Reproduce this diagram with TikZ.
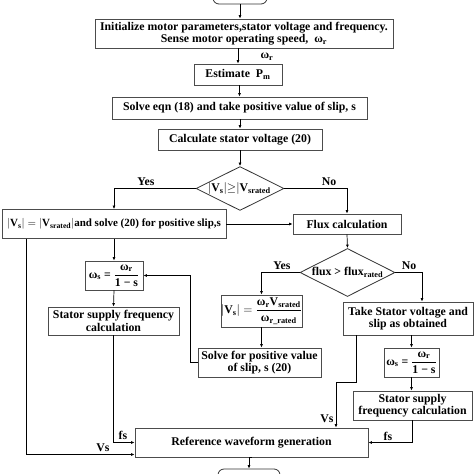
\documentclass[tikz,border=0pt]{standalone}
\usepackage{amsmath}
\usepackage{fontspec}
\setmainfont{Liberation Serif}
\usetikzlibrary{arrows.meta,shapes.geometric}

\begin{document}
\begin{tikzpicture}[x=1pt, y=-1pt,
    box/.style = {
        draw=black!70, line width=0.8pt, inner sep=0pt, align=center,
        font=\fontsize{11.8}{12.5}\selectfont\bfseries
    },
    term/.style = {draw=black!80, line width=0.8pt, rounded corners=6pt},
    decision/.style = {
        draw=black!80, line width=0.8pt, diamond, aspect=2, inner sep=0pt,
        font=\fontsize{11.8}{12.5}\selectfont\bfseries
    },
    arr/.style = {-{Latex[length=3.5pt,width=3pt]}, line width=0.7pt},
    lab/.style = {inner sep=1pt, font=\fontsize{11.8}{12.5}\selectfont\bfseries}
]
    \useasboundingbox (0,0) rectangle (474,474);

    % Nodes
    \node[term, minimum width=54, minimum height=24] (start) at (240,-8) {};
    \node[box, minimum width=298, minimum height=29] (init) at (244,33.5)
        {Initialize motor parameters,stator voltage and frequency.\\
         Sense motor operating speed,\ \ ω\textsubscript{r}};
    \node[box, minimum width=88, minimum height=21] (est) at (238,74.5)
        {Estimate\ \ P\textsubscript{m}};
    \node[box, minimum width=255, minimum height=22] (slip) at (239.5,108)
        {Solve eqn (18) and take positive value of slip, s};
    \node[box, minimum width=164, minimum height=21] (calc) at (240,139.5)
        {Calculate stator voltage (20)};
    \node[decision, minimum width=88, minimum height=43] (volt) at (240,188.5)
        {$\left|\text{V\textsubscript{s}}\right|$$\geq$$\left|\text{V\textsubscript{srated}}\right.$};

    \node[box, minimum width=224, minimum height=29, font=\fontsize{11}{12}\selectfont\bfseries] (vlim) at (114,224)
        {$\left|\text{V\textsubscript{s}}\right| = \left|\text{V\textsubscript{srated}}\right|$and solve (20) for positive slip,s};
    \node[box, minimum width=108, minimum height=20] (flux) at (347,224)
        {Flux calculation};
    \node[decision, minimum width=95, minimum height=48] (fluxq) at (347.5,272.5)
        {flux > flux\textsubscript{rated}};

    \node[box, minimum width=58, minimum height=29] (ws1) at (114,275.5)
        {ω\textsubscript{s} = $\dfrac{\text{ω\textsubscript{r}}}{\text{1 − s}}$};
    \node[box, minimum width=131, minimum height=28] (fs1) at (113.5,321)
        {Stator supply frequency\\ calculation};

    \node[box, minimum width=77, minimum height=32] (vred) at (261.5,311)
        {$\left|\text{V\textsubscript{s}}\right| = \dfrac{\text{ω\textsubscript{r}V\textsubscript{srated}}}{\text{ω\textsubscript{r\_rated}}}$};
    \node[box, minimum width=123, minimum height=29] (slip2) at (259.5,362.5)
        {Solve for positive value\\ of slip, s (20)};

    \node[box, minimum width=130, minimum height=33] (take) at (408,318.5)
        {Take Stator voltage and\\ slip as obtained};
    \node[box, minimum width=55, minimum height=29] (ws2) at (411.5,362.5)
        {ω\textsubscript{s} = $\dfrac{\text{ω\textsubscript{r}}}{\text{1 − s}}$};
    \node[box, minimum width=119, minimum height=29] (fs2) at (412.5,405.5)
        {Stator supply\\ frequency calculation};

    \node[box, minimum width=233, minimum height=29] (ref) at (251.5,442.5)
        {Reference waveform generation};
    \node[term, minimum width=62, minimum height=24] (stop) at (249,481) {};

    % Main column
    \draw[arr] (start.south) -- (start.south |- init.north);
    \draw[arr] (est.north |- init.south) -- (est.north);
    \node[lab] (wr) at (267,57) {ω\textsubscript{r}};
    \draw[arr] (est.south -| slip.north) -- (slip.north);
    \draw[arr] (slip.south) -- (slip.south -| calc.north) -- (calc.north);
    \draw[arr] (calc.south) -- (volt.north);

    % First decision
    \draw[arr] (volt.west) -| (vlim.north);
    \node[lab] (yes1) at (146,182) {Yes};
    \draw[arr] (volt.east) -| (flux.north);
    \node[lab] (no1) at (329,182) {No};
    \draw[arr] (vlim.east) -- (flux.west);

    % Left branch
    \draw[arr] (vlim.south) -- (ws1.north);
    \draw[arr] (ws1.south) -- (fs1.north);
    \draw[arr] (fs1.south) |- (ref.west);
    \node[lab] (fsl) at (123,435) {fs};
    \draw[arr] ([xshift=25pt]vlim.south west) |- ([yshift=-12pt]ref.west);
    \node[lab] (vsl) at (103,448) {Vs};

    % Second decision
    \draw[arr] (flux.south) -- (fluxq.north);
    \draw[arr] (fluxq.west) -| (vred.north);
    \node[lab] (yes2) at (282,266) {Yes};
    \draw[arr] (fluxq.east) -| ([xshift=14pt]take.north);
    \node[lab] (no2) at (409,266) {No};
    \draw[arr] (vred.south) -- (vred.south |- slip2.north);
    \draw[arr] (slip2.west) -- ++(-7,0) |- (ws1.east);

    % Right branch
    \draw[arr] ([xshift=-52pt]take.south) -- ++(0,47) -| ([xshift=84.5pt]ref.north);
    \node[lab] (vsr) at (327,419) {Vs};
    \draw[arr] (take.south -| ws2.north) -- (ws2.north);
    \draw[arr] (ws2.south) -- (ws2.south |- fs2.north);
    \draw[arr] (fs2.south) |- (ref.east);
    \node[lab] (fsr) at (388,436) {fs};

    \draw[arr] (ref.south) -- (ref.south -| stop.north) -- (stop.north);
\end{tikzpicture}
\end{document}
